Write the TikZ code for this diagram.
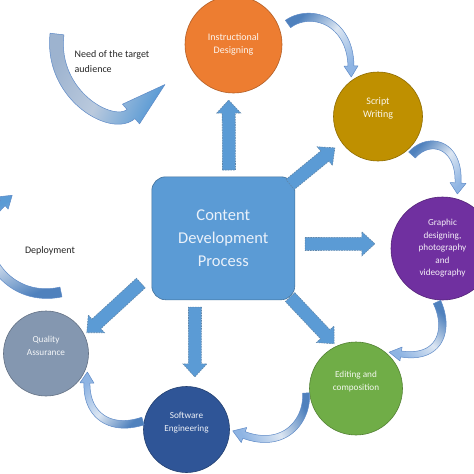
\documentclass[tikz,border=0pt]{standalone}
\usepackage{fontspec}
\setmainfont{Carlito}
\usetikzlibrary{calc}
\definecolor{boxblue}{HTML}{5B9BD5}
\definecolor{boxline}{HTML}{41719C}
\definecolor{corange}{HTML}{ED7D31}
\definecolor{cgold}{HTML}{BF9000}
\definecolor{cpurple}{HTML}{7030A0}
\definecolor{cgreen}{HTML}{70AD47}
\definecolor{cnavy}{HTML}{2F5597}
\definecolor{cgrey}{HTML}{8497B0}
\definecolor{txtdark}{HTML}{262626}
\definecolor{arrdark}{HTML}{4F81BD}
\definecolor{arrlight}{HTML}{DCE6F2}
\definecolor{arrmid}{HTML}{8EB4E3}
\definecolor{arrline}{HTML}{5E8AC7}
\definecolor{arrgrey}{HTML}{9DB3CF}
\definecolor{boxtext}{HTML}{EAF1FA}

\pgfmathdeclarefunction{bz}{5}{\begingroup\pgfmathparse{(1-#1)*(1-#1)*(1-#1)*(#2)+3*(1-#1)*(1-#1)*(#1)*(#3)+3*(1-#1)*(#1)*(#1)*(#4)+(#1)*(#1)*(#1)*(#5)}\pgfmathsmuggle\pgfmathresult\endgroup}
\pgfmathdeclarefunction{dbz}{5}{\begingroup\pgfmathparse{3*(1-#1)*(1-#1)*((#3)-(#2))+6*(1-#1)*(#1)*((#4)-(#3))+3*(#1)*(#1)*((#5)-(#4))}\pgfmathsmuggle\pgfmathresult\endgroup}

\newcommand\setbez[8]{\def\Pax{#1}\def\Pay{#2}\def\Pbx{#3}\def\Pby{#4}\def\Pcx{#5}\def\Pcy{#6}\def\Pdx{#7}\def\Pdy{#8}}
% #1 tail half width, #2 half width at head base, #3 head half width, #4 head length, #5 style
\newcommand\carrow[5]{%
 \pgfmathsetmacro\cAex{\Pdx-\Pcx}%
 \pgfmathsetmacro\cAey{\Pdy-\Pcy}%
 \pgfmathsetmacro\cAel{veclen(\cAex,\cAey)}%
 \pgfmathsetmacro\cAux{\cAex/\cAel}%
 \pgfmathsetmacro\cAuy{\cAey/\cAel}%
 \path[#5] plot[domain=0:1,samples=40] ({bz(\x,\Pax,\Pbx,\Pcx,\Pdx)-(#1+(#2-#1)*\x)*dbz(\x,\Pay,\Pby,\Pcy,\Pdy)/veclen(dbz(\x,\Pax,\Pbx,\Pcx,\Pdx),dbz(\x,\Pay,\Pby,\Pcy,\Pdy))},{bz(\x,\Pay,\Pby,\Pcy,\Pdy)+(#1+(#2-#1)*\x)*dbz(\x,\Pax,\Pbx,\Pcx,\Pdx)/veclen(dbz(\x,\Pax,\Pbx,\Pcx,\Pdx),dbz(\x,\Pay,\Pby,\Pcy,\Pdy))})
 -- ({\Pdx-(#3)*(\cAuy)},{\Pdy+(#3)*(\cAux)}) -- ({\Pdx+(#4)*(\cAux)},{\Pdy+(#4)*(\cAuy)}) -- ({\Pdx+(#3)*(\cAuy)},{\Pdy-(#3)*(\cAux)})
 -- plot[domain=1:0,samples=40] ({bz(\x,\Pax,\Pbx,\Pcx,\Pdx)+(#1+(#2-#1)*\x)*dbz(\x,\Pay,\Pby,\Pcy,\Pdy)/veclen(dbz(\x,\Pax,\Pbx,\Pcx,\Pdx),dbz(\x,\Pay,\Pby,\Pcy,\Pdy))},{bz(\x,\Pay,\Pby,\Pcy,\Pdy)-(#1+(#2-#1)*\x)*dbz(\x,\Pax,\Pbx,\Pcx,\Pdx)/veclen(dbz(\x,\Pax,\Pbx,\Pcx,\Pdx),dbz(\x,\Pay,\Pby,\Pcy,\Pdy))})
 -- cycle;}

% straight block arrow from #1 to #2
\newcommand\barrow[2]{%
 \coordinate (bA) at (#1);
 \coordinate (bB) at (#2);
 \coordinate (bH) at ($(bB)!13pt!(bA)$);
 \path[blockarr] ($(bA)!6.5pt!90:(bB)$) -- ($(bH)!6.5pt!90:(bB)$) -- ($(bH)!12pt!90:(bB)$) -- (bB)
   -- ($(bH)!12pt!-90:(bB)$) -- ($(bH)!6.5pt!-90:(bB)$) -- ($(bA)!6.5pt!-90:(bB)$) -- cycle;}

\tikzset{
 cbox/.style={rectangle, rounded corners=14pt, minimum width=143pt, minimum height=123pt,
   fill=boxblue, draw=boxline, line width=0.6pt, text=boxtext, align=center,
   font=\fontsize{16.5}{23}\selectfont},
 circ/.style={circle, draw=#1!75!black, line width=0.6pt, fill=#1, inner sep=0pt,
   text=white!92!#1, align=center, font=\fontsize{9.2}{12.5}\selectfont},
 bigtxt/.style={font=\fontsize{10}{13.5}\selectfont},
 blockarr/.style={fill=boxblue, draw=boxline!85!white, line width=0.6pt,
   dash pattern=on 1.6pt off 1pt, line join=miter},
 curvarr/.style={draw=arrline, line width=0.5pt, line join=round},
 lbl/.style={text=txtdark, align=left, font=\fontsize{10}{15}\selectfont, inner sep=0pt}
}

\begin{document}
\begin{tikzpicture}[x=1pt,y=-1pt]
\useasboundingbox (0,0) rectangle (474,474);
\clip (0,0) rectangle (474,474);
\fill[white] (0,0) rectangle (474,474);

% central box
\node[cbox] (box) at (223.3,238.3) {Content\\Development\\Process};

% circles
\node[circ=corange, minimum size=97pt, bigtxt] (instr) at (233.5,44.5) {Instructional\\Designing};
\node[circ=cgold, minimum size=89pt, bigtxt] (script) at (378,116.5) {Script\\Writing\\[4pt]};
\node[circ=cpurple, minimum size=103pt] (graphic) at (442.5,248.5) {Graphic\\designing,\\photography\\and\\videography};
\node[circ=cgreen, minimum size=93pt] (editing) at (356,388.5) {Editing and\\composition\\[3pt]};
\node[circ=cnavy, minimum size=86pt] (software) at (186.5,429.5) {Software\\Engineering\\[3pt]};
\node[circ=cgrey, minimum size=85pt] (qa) at (46,353.5) {Quality\\Assurance\\[3pt]};

% straight block arrows from the box
\barrow{$(box.north)+(5.7,-6.5)$}{$(instr.-95)!-7pt!(instr.center)$}
\barrow{$(box.north east)+(-5,8)$}{$(script.-144)!-8.5pt!(script.center)$}
\barrow{$(box.east)+(10,5.7)$}{$(graphic.176)!-16pt!(graphic.center)$}
\barrow{$(box.south east)+(-5,-3)$}{$(editing.116)!-3pt!(editing.center)$}
\barrow{$(box.south)+(-28.3,7)$}{$(software.81)!-10pt!(software.center)$}
\barrow{$(box.south west)+(-10.7,-17)$}{$(qa.27)!-3pt!(qa.center)$}

% curved arrows
\setbez{57}{34}{50}{95}{112}{130.5}{131}{114}
\carrow{7}{6}{13}{45}{curvarr, top color=arrgrey, bottom color=boxblue, middle color=arrgrey!70!white, shading angle=65}
\setbez{288}{24}{310}{8}{350}{20}{351}{66}
\carrow{4.5}{3}{7}{11}{curvarr, top color=arrdark, bottom color=arrmid, middle color=arrlight, shading angle=48}
\setbez{412}{155}{430}{135}{460}{145}{458}{183}
\carrow{4.5}{3}{8}{11}{curvarr, top color=arrdark, bottom color=arrmid, middle color=arrlight, shading angle=48}
\setbez{437}{302}{450}{330}{440}{360}{401}{354}
\carrow{4}{3}{7}{12}{curvarr, top color=arrdark, bottom color=arrmid, middle color=arrlight, shading angle=-44}
\setbez{306}{393}{308}{420}{285}{450}{244}{435}
\carrow{3.5}{3.5}{8}{12}{curvarr, top color=arrdark, bottom color=arrmid, middle color=arrlight, shading angle=-62}
\setbez{143}{421}{110}{432}{86}{415}{87}{383}
\carrow{4}{3}{7}{11}{curvarr, top color=arrdark, bottom color=arrmid, middle color=arrlight, shading angle=-131}
\setbez{61}{292}{0}{305}{-35}{235}{3}{203}
\carrow{5}{3.5}{8}{12}{curvarr, top color=arrdark, bottom color=boxblue, middle color=arrlight, shading angle=-154}

% free labels
\node[lbl, anchor=west] (need) at (74.5,61.5) {Need of the target\\audience};
\node[lbl] (dep) at (50,251) {Deployment};
\end{tikzpicture}
\end{document}
